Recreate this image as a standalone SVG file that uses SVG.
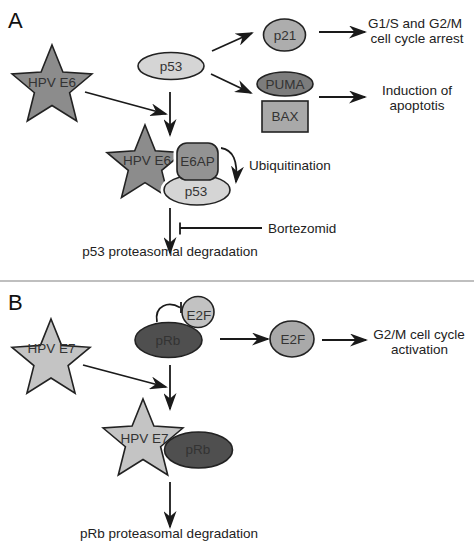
<svg xmlns="http://www.w3.org/2000/svg" width="474" height="557" viewBox="0 0 474 557">
<style>
text{font-family:"Liberation Sans",Arial,sans-serif;font-size:13.5px;fill:#222;}
.nl{fill:#333;text-anchor:middle;}
.c{text-anchor:middle;}
.pl{font-size:22px;fill:#111;}
.sh{stroke:#222;stroke-width:1.6;}
.ln{fill:none;stroke:#1a1a1a;stroke-width:1.8;}
.arr{marker-end:url(#ah);}
.halo{fill:none;stroke:#fff;stroke-width:7;}
</style>
<defs>
<marker id="ah" markerUnits="userSpaceOnUse" markerWidth="18" markerHeight="13" viewBox="0 0 18 13" refX="16" refY="6.5" orient="auto">
<path d="M0,0 L18,6.5 L0,13 L5.5,6.5 z" fill="#1a1a1a"/>
</marker>
</defs>
<rect width="474" height="557" fill="#fff"/>
<line x1="0" y1="281" x2="474" y2="281" stroke="#aaa" stroke-width="1.5"/>
<text class="pl" x="8" y="28">A</text>
<text class="pl" x="8" y="310">B</text>

<g id="connectors">
<line class="ln arr" x1="212" y1="51" x2="252" y2="33"/>
<line class="ln arr" x1="211" y1="74" x2="251" y2="93"/>
<line class="ln arr" x1="85" y1="92" x2="166" y2="114"/>
<line class="ln arr" x1="170" y1="92" x2="170" y2="135"/>
<line class="ln arr" x1="170" y1="208" x2="170" y2="253"/>
<line class="ln" x1="180" y1="228" x2="262" y2="228"/>
<line class="ln" x1="180" y1="222.5" x2="180" y2="234.5"/>
<line class="ln arr" x1="319" y1="32" x2="365" y2="32"/>
<line class="ln arr" x1="319" y1="97" x2="365" y2="97"/>
<path class="ln arr" d="M221,148 C233,150 238,160 236,182"/>
<line class="ln arr" x1="220" y1="339" x2="268" y2="339"/>
<line class="ln arr" x1="322" y1="340" x2="366" y2="340"/>
<line class="ln arr" x1="83" y1="365" x2="166" y2="387"/>
<line class="ln arr" x1="170" y1="365" x2="170" y2="409"/>
<line class="ln arr" x1="170" y1="482" x2="170" y2="527"/>
</g>

<g id="hpv-e6">
<polygon class="sh" fill="#8c8c8c" points="52,45 62.9,72 91.9,74 69.6,92.7 76.7,121 52,105.5 27.3,121 34.4,92.7 12.1,74 41.1,72"/>
<text class="nl" x="52" y="87">HPV E6</text>
</g>
<g id="p53">
<ellipse class="sh" cx="171" cy="66" rx="33" ry="13.5" fill="#d5d5d5"/>
<text class="nl" x="171" y="71">p53</text>
</g>
<g id="p21">
<ellipse class="sh" cx="284.5" cy="35" rx="21" ry="16" fill="#adadad"/>
<text class="nl" x="285" y="40">p21</text>
</g>
<g id="puma">
<ellipse class="sh" cx="285" cy="84" rx="28" ry="12" fill="#7c7c7c"/>
<text class="nl" x="285" y="89">PUMA</text>
</g>
<g id="bax">
<rect class="sh" x="262" y="101" width="46" height="31" fill="#a9a9a9"/>
<text class="nl" x="285" y="121">BAX</text>
</g>
<g id="label-arrest">
<text class="c" x="415" y="28">G1/S and G2/M</text>
<text class="c" x="417" y="43">cell cycle arrest</text>
</g>
<g id="label-apoptosis">
<text class="c" x="417" y="95">Induction of</text>
<text class="c" x="417" y="110">apoptotis</text>
</g>
<g id="complex-e6">
<polygon class="sh" fill="#8c8c8c" points="145,125 155.3,150.8 183,152.6 161.7,170.4 168.5,197.4 145,182.6 121.5,197.4 128.3,170.4 107,152.6 134.7,150.8"/>
<text class="nl" x="147" y="165">HPV E6</text>
<rect class="halo" x="177" y="143" width="41" height="37" rx="10"/>
<ellipse class="halo" cx="197" cy="190" rx="33" ry="15"/>
<ellipse class="sh" cx="197" cy="190" rx="33" ry="15" fill="#d5d5d5"/>
<text class="nl" x="196" y="196">p53</text>
<rect class="sh" x="177" y="143" width="41" height="37" rx="10" fill="#939393"/>
<text class="nl" x="197.5" y="166">E6AP</text>
</g>
<g id="label-ubiq"><text x="249" y="170">Ubiquitination</text></g>
<g id="label-bortezomid"><text x="268" y="233">Bortezomid</text></g>
<g id="label-p53deg"><text class="c" x="170" y="256">p53 proteasomal degradation</text></g>

<g id="hpv-e7">
<polygon class="sh" fill="#c4c4c4" points="51,319 61.6,345.4 90,347.3 68.1,365.6 75.1,393.2 51,378 26.9,393.2 33.9,365.6 12,347.3 40.4,345.4"/>
<text class="nl" x="51.5" y="353">HPV E7</text>
</g>
<g id="prb-e2f">
<ellipse class="sh" cx="168.5" cy="340" rx="33.5" ry="17.5" fill="#4f4f4f"/>
<text class="nl" x="168" y="345">pRb</text>
<path class="ln" d="M157,322 C154,305 169,301 180,307.5"/>
<line class="ln" x1="181" y1="302" x2="181" y2="313"/>
<ellipse class="sh" cx="198" cy="312" rx="16" ry="15.5" fill="#c2c2c2"/>
<text class="nl" x="199" y="320">E2F</text>
</g>
<g id="e2f">
<ellipse class="sh" cx="292" cy="339" rx="22" ry="18" fill="#a9a9a9"/>
<text class="nl" x="293" y="344">E2F</text>
</g>
<g id="label-activation">
<text class="c" x="419" y="339">G2/M cell cycle</text>
<text class="c" x="419.5" y="354">activation</text>
</g>
<g id="complex-e7">
<polygon class="sh" fill="#c4c4c4" points="143,399 153.9,426 182.9,428 160.6,446.7 167.7,475 143,459.5 118.3,475 125.4,446.7 103.1,428 132.1,426"/>
<text class="nl" x="144.5" y="443">HPV E7</text>
<ellipse class="sh" cx="198.5" cy="450" rx="34" ry="18" fill="#4f4f4f"/>
<text class="nl" x="198" y="454">pRb</text>
</g>
<g id="label-prbdeg"><text class="c" x="169" y="538">pRb proteasomal degradation</text></g>
</svg>
